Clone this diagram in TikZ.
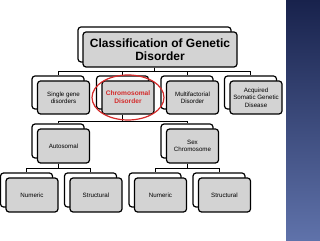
\documentclass[tikz,border=0pt]{standalone}
\usepackage{fontspec}
\setmainfont{Liberation Sans}
\usetikzlibrary{positioning, calc}
\definecolor{boxGray}{HTML}{D3D3D3}
\definecolor{circleRed}{HTML}{D42A2A}
\definecolor{bandTop}{HTML}{18224C}
\definecolor{bandBottom}{HTML}{5F72AA}

\begin{document}
\begin{tikzpicture}[
    x=1pt, y=1pt,
    back/.style={draw=black, fill=white, line width=1.2pt, rounded corners=3pt,
        minimum width=52pt, minimum height=33pt, inner sep=0pt},
    front/.style={draw=black, fill=boxGray, line width=1.2pt, rounded corners=3pt,
        minimum width=52pt, minimum height=33pt, inner sep=1pt, align=center,
        font=\fontsize{6.2}{7.4}\selectfont, text=black},
    link/.style={draw=black, line width=0.9pt}
]
    \useasboundingbox (0,0) rectangle (320,240);
    \shade[top color=bandTop, bottom color=bandBottom] (286,0) rectangle (320,240);

    % top box
    \node[back, minimum width=153pt, minimum height=35pt] (topb) at (154.5,195.5) {};
    \node[front, minimum width=154pt, minimum height=35pt,
        font=\bfseries\fontsize{12}{13.5}\selectfont] (top) at ([shift={(5.5,-5)}]topb.center)
        {Classification of Genetic\\Disorder};

    % second row
    \node[back] (sgb) at (58,147.5) {};
    \node[front] (sg) at ([shift={(5.5,-5)}]sgb.center) {Single gene\\disorders};
    \node[back] (chb) at (122.5,147.5) {};
    \node[front, text=circleRed, font=\bfseries\fontsize{6.6}{7.8}\selectfont] (ch) at ([shift={(5.5,-5)}]chb.center) {Chromosomal\\Disorder};
    \node[back] (mfb) at (187,147.5) {};
    \node[front] (mf) at ([shift={(5.5,-5)}]mfb.center) {Multifactorial\\Disorder};
    \node[back] (acb) at (250.5,147.5) {};
    \node[front] (ac) at ([shift={(5.5,-5)}]acb.center) {Acquired\\Somatic Genetic\\Disease};

    % third row
    \node[back, minimum height=34pt] (aub) at (58,99) {};
    \node[front, minimum height=34pt] (au) at ([shift={(5.5,-5)}]aub.center) {Autosomal};
    \node[back, minimum height=34pt] (sxb) at (187,99) {};
    \node[front, minimum height=34pt] (sx) at ([shift={(5.5,-5)}]sxb.center) {Sex\\Chromosome};

    % leaves
    \node[back, minimum height=34pt] (nu1b) at (26.5,50) {};
    \node[front, minimum height=34pt] (nu1) at ([shift={(5.5,-5)}]nu1b.center) {Numeric};
    \node[back, minimum height=34pt] (st1b) at (90.5,50) {};
    \node[front, minimum height=34pt] (st1) at ([shift={(5.5,-5)}]st1b.center) {Structural};
    \node[back, minimum height=34pt] (nu2b) at (155,50) {};
    \node[front, minimum height=34pt] (nu2) at ([shift={(5.5,-5)}]nu2b.center) {Numeric};
    \node[back, minimum height=34pt] (st2b) at (219,50) {};
    \node[front, minimum height=34pt] (st2) at ([shift={(5.5,-5)}]st2b.center) {Structural};

    % connectors
    \foreach \c in {sgb, chb, mfb, acb}
        \draw[link] (topb |- top.south) -- ++(0,-4) -| (\c.north);
    \foreach \c in {aub, sxb}
        \draw[link] (chb |- ch.south) -- ++(0,-7) -| (\c.north);
    \foreach \c in {nu1b, st1b}
        \draw[link] (aub |- au.south) -- ++(0,-5) -| (\c.north);
    \foreach \c in {nu2b, st2b}
        \draw[link] (sxb |- sx.south) -- ++(0,-5) -| (\c.north);

    % highlight
    \draw[circleRed, line width=1.2pt] (ch.center) ellipse [x radius=36, y radius=22.5];
\end{tikzpicture}
\end{document}
